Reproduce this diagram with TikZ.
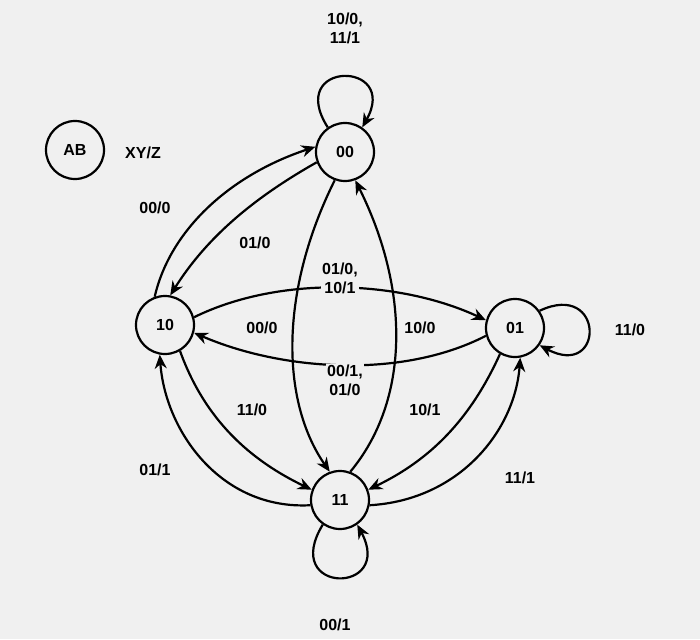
\documentclass[tikz,border=0pt]{standalone}
\usepackage{fontspec}
\setmainfont{Liberation Sans}
\usetikzlibrary{arrows.meta}
\begin{document}
\begin{tikzpicture}[x=1pt,y=-1pt,
  st/.style={circle,draw,line width=2.2pt,minimum size=58pt,font=\fontsize{16}{18}\selectfont\bfseries},
  ed/.style={line width=2.2pt,-{Stealth[length=14pt,width=12pt]}},
  lb/.style={font=\fontsize{16}{19}\selectfont\bfseries,align=center,inner sep=1pt}]
\fill[gray!12] (0,0) rectangle (700,639);
\useasboundingbox (0,0) rectangle (700,639);
\node[st] (leg) at (75,150) {AB};
\node[lb] (legt) at (143,153) {XY/Z};
\node[st] (s00) at (345,152) {00};
\node[st] (s10) at (165,325) {10};
\node[st] (s01) at (515,328) {01};
\node[st] (s11) at (340,500) {11};
% self loops
\draw[ed] (s00.125) .. controls (285,60) and (400,60) .. (s00.55);
\node[lb] at (345,28) {10/0,\\11/1};
\draw[ed] (s01.35) .. controls (605,280) and (605,380) .. (s01.-35);
\node[lb] at (630,330) {11/0};
\draw[ed] (s11.-125) .. controls (280,595) and (395,595) .. (s11.-55);
\node[lb] at (335,625) {00/1};
% 00 <-> 10
\draw[ed] (s00.200) .. controls (250,200) and (205,240) .. (s10.80);
\node[lb] at (255,243) {01/0};
\draw[ed] (s10.110) .. controls (170,230) and (230,175) .. (s00.170);
\node[lb] at (155,208) {00/0};
% 10 <-> 01
\draw[ed] (s10.15) .. controls (280,275) and (400,280) .. (s01.165);
\node[lb,fill=gray!12] at (340,278) {01/0,\\10/1};
\draw[ed] (s01.195) .. controls (400,380) and (280,370) .. (s10.-15);
\node[lb,fill=gray!12] at (345,380) {00/1,\\01/0};
% 00 <-> 11
\draw[ed] (s00.250) .. controls (280,290) and (280,400) .. (s11.110);
\node[lb] at (262,328) {00/0};
\draw[ed] (s11.70) .. controls (410,400) and (410,290) .. (s00.-70);
\node[lb] at (420,328) {10/0};
% 10 <-> 11
\draw[ed] (s10.-60) .. controls (205,420) and (250,460) .. (s11.160);
\node[lb] at (252,410) {11/0};
\draw[ed] (s11.190) .. controls (220,510) and (165,430) .. (s10.-100);
\node[lb] at (155,470) {01/1};
% 01 <-> 11
\draw[ed] (s01.-120) .. controls (470,420) and (430,460) .. (s11.20);
\node[lb] at (425,410) {10/1};
\draw[ed] (s11.-10) .. controls (460,500) and (515,430) .. (s01.-80);
\node[lb] at (520,478) {11/1};
\end{tikzpicture}
\end{document}
